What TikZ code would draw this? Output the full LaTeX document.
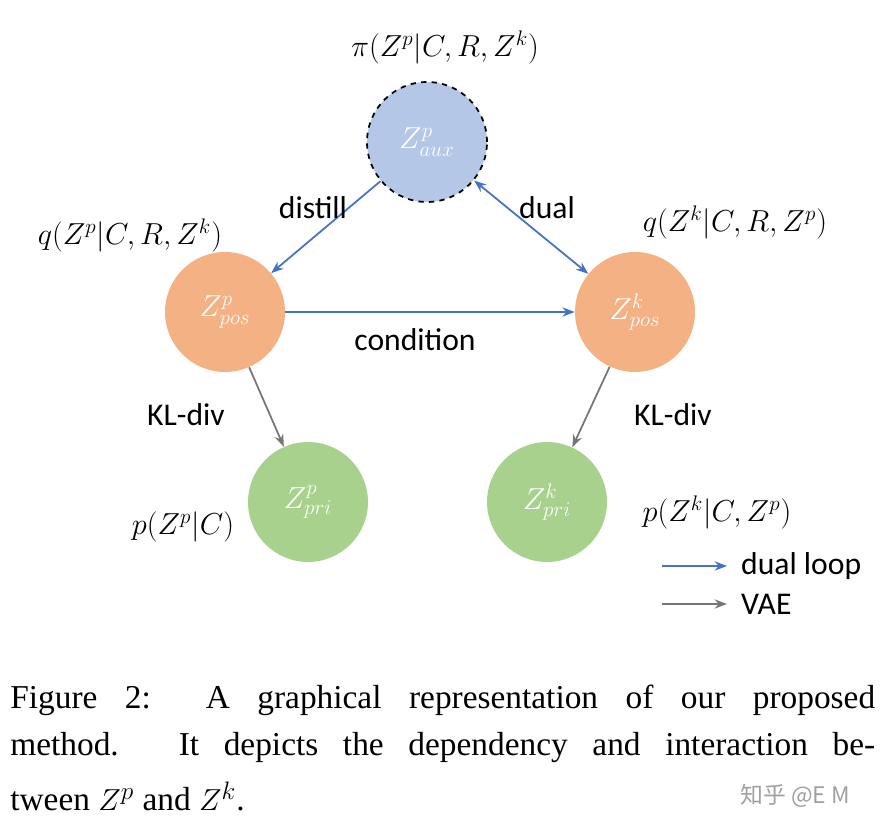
\documentclass[tikz,border=0pt]{standalone}
\usepackage{fontspec}
\setmainfont{Liberation Serif}
\newfontfamily\lblfont{Carlito}
\newfontfamily\cjkf{Noto Sans CJK SC}
\usetikzlibrary{arrows.meta}
\begin{document}
\begin{tikzpicture}[x=0.02cm,y=-0.02cm,
  nd/.style={circle,minimum size=2.4cm,inner sep=0pt,font=\fontsize{17}{20}\selectfont,text=white},
  lbl/.style={font=\lblfont\fontsize{18}{21}\selectfont},
  mth/.style={font=\fontsize{17}{20}\selectfont},
  blu/.style={draw={rgb,255:red,68;green,114;blue,196},line width=1pt,-{Stealth[length=7pt]}},
  gry/.style={draw={rgb,255:red,118;green,118;blue,118},line width=1pt,-{Stealth[length=7pt]}},
  captxt/.style={font=\fontsize{19}{23}\selectfont,anchor=west,inner sep=0pt}]
\useasboundingbox (0,0) rectangle (896,830);
\node[nd,fill={rgb,255:red,180;green,199;blue,231},draw,dashed,line width=1pt] (aux) at (427,142) {$Z^p_{aux}$};
\node[nd,fill={rgb,255:red,244;green,177;blue,131}] (pp) at (225,312) {$Z^p_{pos}$};
\node[nd,fill={rgb,255:red,244;green,177;blue,131}] (pk) at (635,312) {$Z^k_{pos}$};
\node[nd,fill={rgb,255:red,169;green,209;blue,142}] (rp) at (308,502) {$Z^p_{pri}$};
\node[nd,fill={rgb,255:red,169;green,209;blue,142}] (rk) at (547,502) {$Z^k_{pri}$};
\node[mth] (l1) at (445,47) {$\pi(Z^p|C,R,Z^k)$};
\node[mth] (l2) at (130,235) {$q(Z^p|C,R,Z^k)$};
\node[mth] (l3) at (735,222) {$q\big(Z^k|C,R,Z^p\big)$};
\node[mth] (l4) at (183,527) {$p(Z^p|C)$};
\node[mth] (l5) at (717,512) {$p(Z^k|C,Z^p)$};
\draw[blu] (aux) -- (pp);
\draw[blu,{Stealth[length=7pt]}-{Stealth[length=7pt]}] (aux) -- (pk);
\draw[blu] (pp) -- (pk);
\draw[gry] (pp) -- (rp);
\draw[gry] (pk) -- (rk);
\node[lbl] (t1) at (313,208) {distill};
\node[lbl] (t2) at (547,208) {dual};
\node[lbl] (t3) at (415,340) {condition};
\node[lbl] (t4) at (186,415) {KL-div};
\node[lbl] (t5) at (673,415) {KL-div};
\coordinate (a1) at (662,566); \coordinate (a2) at (727,566);
\coordinate (b1) at (662,604); \coordinate (b2) at (727,604);
\draw[blu] (a1) -- (a2);
\draw[gry] (b1) -- (b2);
\node[lbl,anchor=west] (lg1) at (735,566) {dual loop};
\node[lbl,anchor=west] (lg2) at (735,604) {VAE};
\node[captxt] (c1) at (10,700) {\makebox[17.3cm][s]{Figure 2:\ \ A graphical representation of our proposed}};
\node[captxt] (c2) at (10,748) {\makebox[17.3cm][s]{method. It depicts the dependency and interaction be-}};
\node[captxt] (c3) at (10,796) {tween $Z^p$ and $Z^k$.};
\node[anchor=west,inner sep=0pt,text={rgb,255:red,160;green,160;blue,160},font=\cjkf\fontsize{13}{15}\selectfont] (wm) at (740,796) {知乎 @E M};
\end{tikzpicture}
\end{document}
